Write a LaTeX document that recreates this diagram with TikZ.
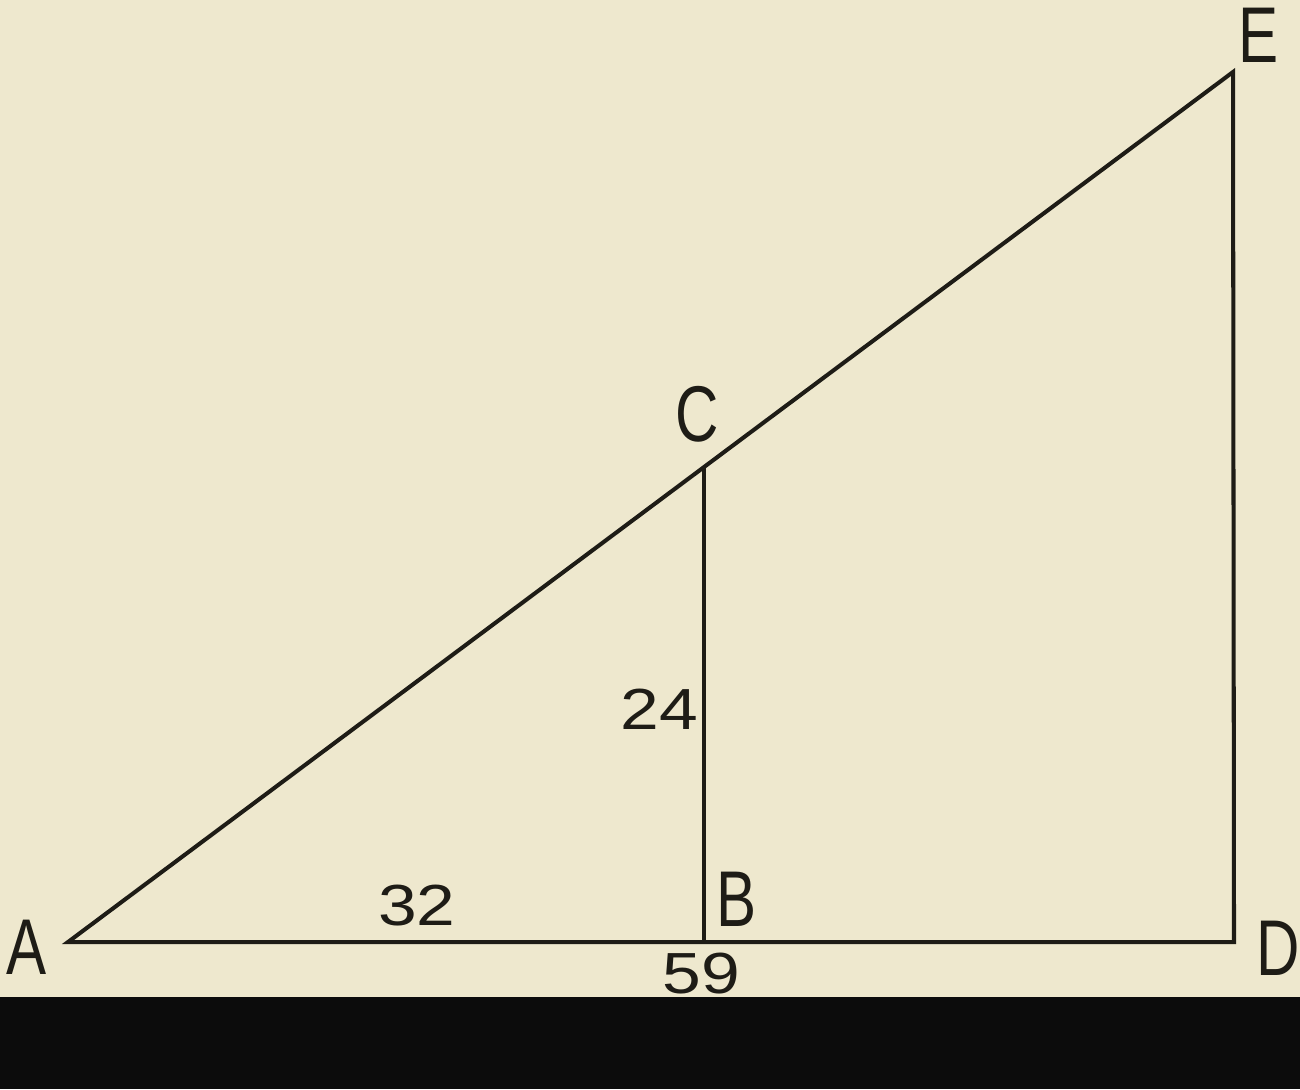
\documentclass[tikz,border=0pt]{standalone}
\usepackage{fontspec}
\setmainfont{Liberation Sans}
\newfontfamily\letterfont{Liberation Sans}[FakeStretch=0.76]
\newfontfamily\digitfont{Liberation Sans}[FakeStretch=1.2]
\usetikzlibrary{positioning}
\definecolor{paper}{RGB}{238,232,206}
\definecolor{ink}{RGB}{30,28,22}
\definecolor{strip}{RGB}{12,12,12}

\begin{document}
\begin{tikzpicture}[x=0.02cm, y=-0.02cm, line width=2.3pt, line join=miter,
    lbl/.style={text=ink, inner sep=0pt, font=\letterfont\fontsize{45}{45}\selectfont},
    num/.style={text=ink, inner sep=0pt, font=\digitfont\fontsize{33}{33}\selectfont}]

    %paper and bottom strip
    \fill[paper] (0,0) rectangle (1300,997);
    \fill[strip] (0,997) rectangle (1300,1089);
    \useasboundingbox (0,0) rectangle (1300,1089);

    %define the corners
    \coordinate (A) at (68,942);
    \coordinate (B) at (704,942);
    \coordinate (C) at (704,467);
    \coordinate (D) at (1234,942);
    \coordinate (E) at (1233,72);

    %define the letters and lengths
    \node[lbl] (lA) at (27,947) {A};
    \node[lbl] (lB) at (737,899) {B};
    \node[lbl] (lC) at (697,414) {C};
    \node[lbl] (lD) at (1278,948) {D};
    \node[lbl] (lE) at (1259,35) {E};
    \node[num] (n24) at (659,709) {24};
    \node[num] (n32) at (417,906) {32};
    \node[num] (n59) at (701,974) {59};

    %define the sides
    \draw[ink] (A) -- (E) -- (D) -- cycle;
    \draw[ink] (C) -- (B);
\end{tikzpicture}
\end{document}
